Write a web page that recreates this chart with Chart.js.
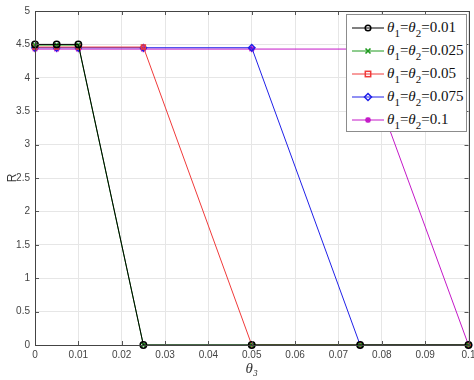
<!DOCTYPE html>
<html>
<head>
<meta charset="utf-8">
<script src="https://cdn.jsdelivr.net/npm/chart.js@4.4.1/dist/chart.umd.min.js"></script>
<style>
  html, body { margin: 0; padding: 0; background: #fff; }
  #wrap { position: relative; width: 474px; height: 380px; }
  #legend {
    position: absolute; left: 346px; top: 14px; width: 121px; height: 118px;
    background: #fff; border: 1px solid #8c8c8c; box-sizing: border-box;
    font-family: "Liberation Serif", "Times New Roman", serif; font-size: 15px; color: #111;
    padding-top: 1px;
  }
  .row { display: flex; align-items: center; height: 23px; }
  .row svg { margin-left: 5px; margin-right: 3px; }
  .row sub { font-size: 11px; vertical-align: -5px; line-height: 0; }
</style>
</head>
<body>
<div id="wrap">
  <canvas id="myChart" width="474" height="380"></canvas>
  <div id="legend"></div>
</div>
<script>
//data
const thetaX = [0, 0.005, 0.01, 0.025, 0.05, 0.075, 0.1];
const r001  = [4.50, 4.50, 4.50, 0, 0, 0, 0];
const r0025 = [4.49, 4.49, 4.49, 0, 0, 0, 0];
const r005  = [4.46, 4.46, 4.46, 4.46, 0, 0, 0];
const r0075 = [4.45, 4.45, 4.45, 4.45, 4.45, 0, 0];
const r01   = [4.43, 4.43, 4.43, 4.43, 4.43, 4.43, 0];

const seriesNames = ['0.01', '0.025', '0.05', '0.075', '0.1'];
const seriesValues = [r001, r0025, r005, r0075, r01];
const colors = ['#000000', '#1f9a1f', '#f03a3a', '#2020e8', '#c418c8'];
const markers = ['circle', 'crossRot', 'rect', 'rectRot', 'star'];

const xTicks = [0, 0.01, 0.02, 0.03, 0.04, 0.05, 0.06, 0.07, 0.08, 0.09, 0.1];

function toPoints(vals) {
    return vals.map((v, i) => ({x: thetaX[i], y: v}));
}

const datasets = seriesValues.map((vals, i) => ({
    label: seriesNames[i],
    data: toPoints(vals),
    borderColor: colors[i],
    backgroundColor: 'rgba(0,0,0,0)',
    borderWidth: 1,
    pointStyle: markers[i],
    pointRadius: markers[i] === 'rect' ? 2.8 : 3.2,
    pointBorderWidth: 1.5,
    pointBorderColor: colors[i],
    pointBackgroundColor: 'rgba(0,0,0,0)',
    tension: 0,
    clip: false
}));

// matlab-like box with inward ticks
const boxPlugin = {
    id: 'box',
    afterDraw(chart) {
        const {ctx, chartArea: a, scales} = chart;
        ctx.save();
        ctx.strokeStyle = '#555';
        ctx.lineWidth = 1;
        ctx.beginPath();
        scales.x.ticks.forEach(t => {
            const px = Math.round(scales.x.getPixelForValue(t.value)) + 0.5;
            ctx.moveTo(px, a.bottom); ctx.lineTo(px, a.bottom - 4);
            ctx.moveTo(px, a.top); ctx.lineTo(px, a.top + 4);
        });
        scales.y.ticks.forEach(t => {
            const py = Math.round(scales.y.getPixelForValue(t.value)) + 0.5;
            ctx.moveTo(a.left, py); ctx.lineTo(a.left + 4, py);
            ctx.moveTo(a.right, py); ctx.lineTo(a.right - 4, py);
        });
        ctx.stroke();
        ctx.strokeStyle = '#444';
        ctx.strokeRect(Math.round(a.left) + 0.5, Math.round(a.top) + 0.5,
            Math.round(a.right - a.left), Math.round(a.bottom - a.top));
        ctx.restore();
    }
};

const ctx = document.getElementById('myChart').getContext('2d');
const chart = new Chart(ctx, {
    type: 'line',
    data: { datasets: datasets },
    options: {
        responsive: false, animation: false,
        layout: { padding: { top: 5, right: 5, left: 0, bottom: 0 } },
        plugins: { legend: { display: false }, tooltip: { enabled: false } },
        scales: {
            x: {
                type: 'linear', min: 0, max: 0.1,
                afterBuildTicks: s => { s.ticks = xTicks.map(v => ({value: v})); },
                afterFit: s => { s.height = 35; s.paddingLeft = 0; s.paddingRight = 0; },
                grid: { color: '#e6e6e6', drawTicks: false },
                border: { display: false },
                ticks: {
                    color: '#444', padding: 4, autoSkip: false, maxRotation: 0,
                    font: { family: 'Liberation Sans, Arial, sans-serif', size: 10 },
                    callback: v => String(parseFloat(v.toFixed(3)))
                },
                title: {
                    display: true, text: 'θ₃', color: '#333', padding: { top: 0, bottom: 2 },
                    font: { family: 'Liberation Serif, Times New Roman, serif', size: 15, style: 'italic' }
                }
            },
            y: {
                min: 0, max: 5,
                afterFit: s => { s.width = 35; },
                grid: { color: '#e6e6e6', drawTicks: false },
                border: { display: false },
                ticks: {
                    stepSize: 0.5, color: '#444', padding: 5,
                    font: { family: 'Liberation Sans, Arial, sans-serif', size: 10 },
                    callback: v => String(parseFloat(v.toFixed(2)))
                },
                title: {
                    display: true, text: 'R', color: '#333', padding: { top: 5, bottom: 0 },
                    font: { family: 'Liberation Sans, Arial, sans-serif', size: 12 }
                }
            }
        }
    },
    plugins: [boxPlugin]
});

// legend with line + marker samples
function markerSvg(style, color) {
    const cx = 16, cy = 6;
    let m = '';
    if (style === 'circle') m = `<circle cx="${cx}" cy="${cy}" r="2.8" fill="none" stroke="${color}" stroke-width="1.5"/>`;
    if (style === 'crossRot') m = `<path d="M${cx-2.5} ${cy-2.5}L${cx+2.5} ${cy+2.5}M${cx-2.5} ${cy+2.5}L${cx+2.5} ${cy-2.5}" stroke="${color}" stroke-width="1.6"/>`;
    if (style === 'rect') m = `<rect x="${cx-2.7}" y="${cy-2.7}" width="5.4" height="5.4" fill="none" stroke="${color}" stroke-width="1.5"/>`;
    if (style === 'rectRot') m = `<path d="M${cx} ${cy-3.5}L${cx+3.5} ${cy}L${cx} ${cy+3.5}L${cx-3.5} ${cy}Z" fill="none" stroke="${color}" stroke-width="1.5"/>`;
    if (style === 'star') m = `<path d="M${cx-3} ${cy}L${cx+3} ${cy}M${cx} ${cy-3}L${cx} ${cy+3}M${cx-2.2} ${cy-2.2}L${cx+2.2} ${cy+2.2}M${cx-2.2} ${cy+2.2}L${cx+2.2} ${cy-2.2}" stroke="${color}" stroke-width="1.4"/>`;
    return `<svg width="32" height="12"><line x1="0" y1="${cy}" x2="32" y2="${cy}" stroke="${color}" stroke-width="1"/>${m}</svg>`;
}

const legend = document.getElementById('legend');
legend.innerHTML = seriesNames.map((n, i) =>
    `<div class="row">${markerSvg(markers[i], colors[i])}<span><i>θ</i><sub>1</sub>=<i>θ</i><sub>2</sub>=${n}</span></div>`
).join('');
</script>
</body>
</html>
